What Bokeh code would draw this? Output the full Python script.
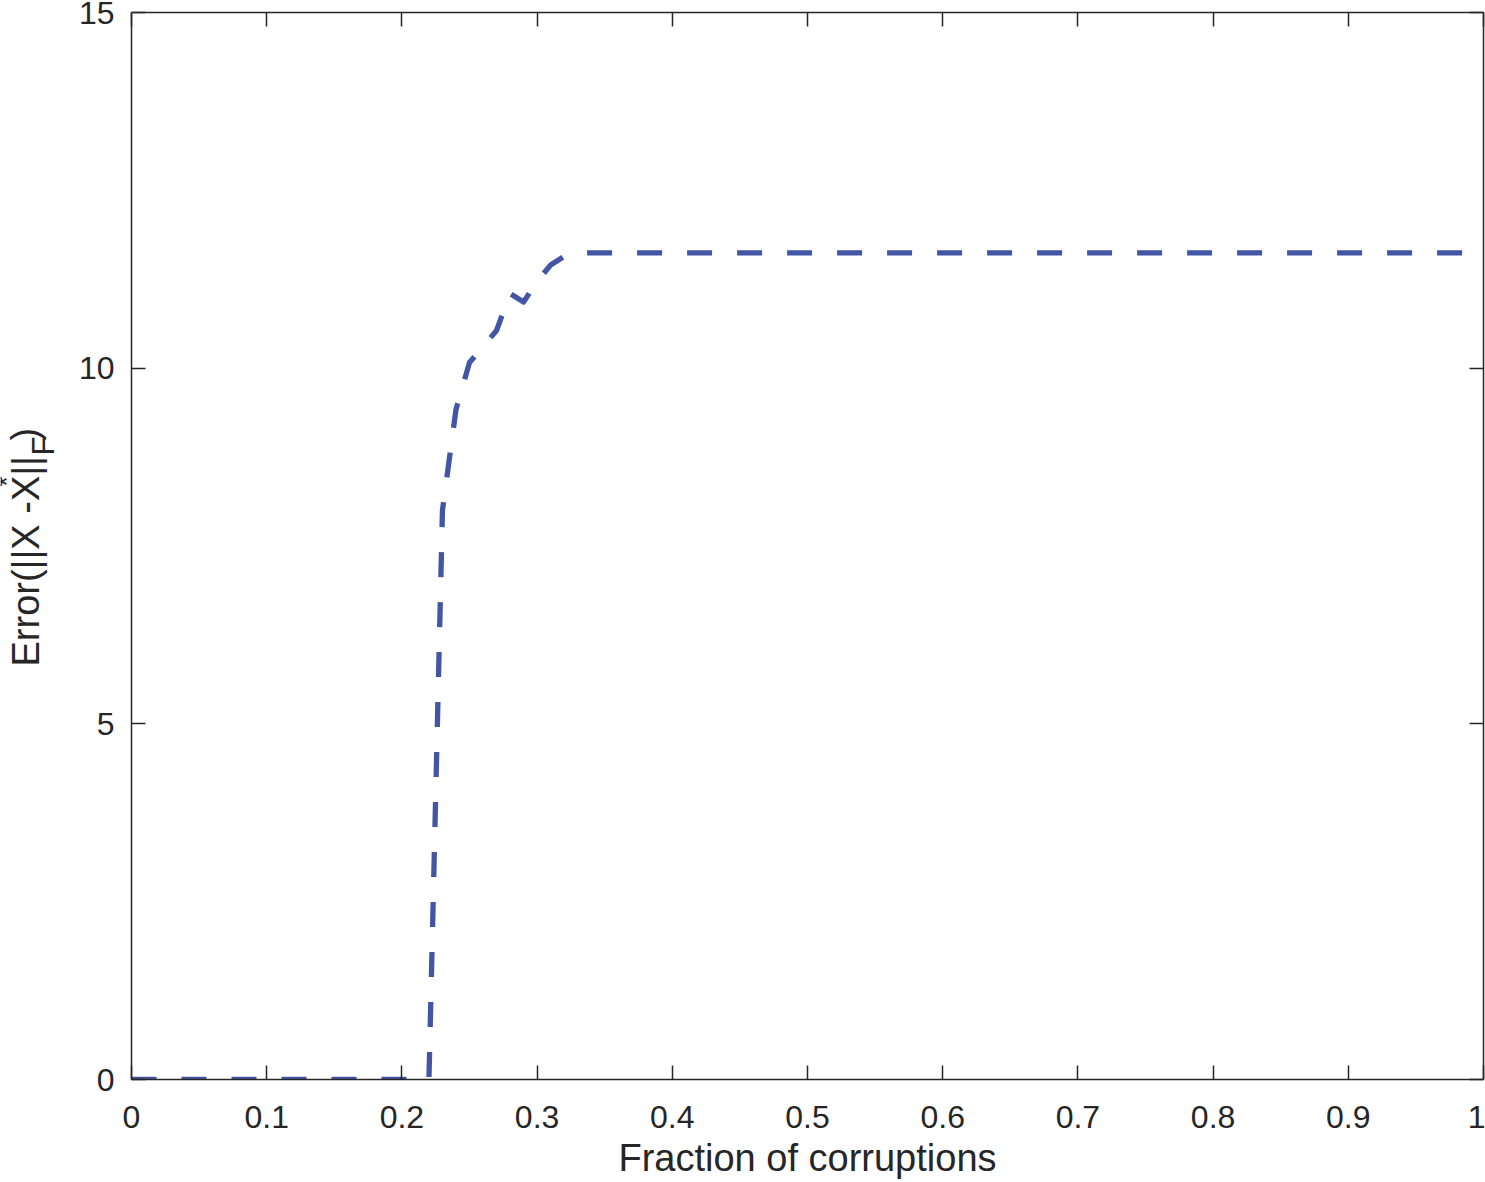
import numpy as np
from bokeh.plotting import figure
from bokeh.models import LinearAxis, FixedTicker, Label, Range1d
from bokeh.layouts import row
from bokeh.embed import file_html
from bokeh.resources import INLINE

# ---- data ----
frac = [0.0, 0.22, 0.23, 0.24, 0.25, 0.26, 0.27, 0.28, 0.29, 0.30, 0.31, 0.32, 0.33, 1.0]
err = [0.0, 0.0, 8.0, 9.42, 10.08, 10.3, 10.53, 11.05, 10.93, 11.22, 11.45, 11.57, 11.62, 11.62]

x_ticks = [0, 0.1, 0.2, 0.3, 0.4, 0.5, 0.6, 0.7, 0.8, 0.9, 1]
x_tick_labels = ["0", "0.1", "0.2", "0.3", "0.4", "0.5", "0.6", "0.7", "0.8", "0.9", "1"]
y_ticks = [0, 5, 10, 15]
y_tick_labels = ["0", "5", "10", "15"]

x_label = "Fraction of corruptions"
y_label_main = "Error(||X -X||"
y_label_sup = "*"
y_label_sub = "F"
y_label_close = ")"

FONT = "Liberation Sans"
AX = "#262626"
LINE = "#4355A5"

TOTAL_W, TOTAL_H = 1485, 1182
LAB_W = 75  # width of the strip that carries the rotated y-axis title
B_TOP, B_BOTTOM = 12, 103

# ---------------- main plot ----------------
p = figure(width=TOTAL_W - LAB_W, height=TOTAL_H, x_range=Range1d(0, 1), y_range=Range1d(0, 15),
           output_backend="svg", toolbar_location=None,
           min_border_left=130 - LAB_W, min_border_right=2,
           min_border_top=B_TOP, min_border_bottom=B_BOTTOM)
p.xgrid.visible = False
p.ygrid.visible = False
p.outline_line_color = None
p.background_fill_color = "white"
p.border_fill_color = "white"


def style(ax, ticks, labels, standoff, show):
    ax.ticker = FixedTicker(ticks=ticks)
    ax.axis_line_color = AX
    ax.axis_line_width = 1.5
    ax.major_tick_line_color = AX
    ax.major_tick_line_width = 1.5
    ax.major_tick_in = 14
    ax.major_tick_out = 0
    ax.minor_tick_line_color = None
    if show:
        ax.major_label_overrides = {t: l for t, l in zip(ticks, labels)}
        ax.major_label_text_font = FONT
        ax.major_label_text_font_size = "32px"
        ax.major_label_text_color = AX
        ax.major_label_standoff = standoff
    else:
        ax.major_label_text_font_size = "0px"
        ax.major_label_standoff = 0


style(p.xaxis[0], x_ticks, x_tick_labels, 26, True)
style(p.yaxis[0], y_ticks, y_tick_labels, 17, True)

p.xaxis[0].axis_label = x_label
p.xaxis[0].axis_label_text_font = FONT
p.xaxis[0].axis_label_text_font_size = "38px"
p.xaxis[0].axis_label_text_font_style = "normal"
p.xaxis[0].axis_label_text_color = AX
p.xaxis[0].axis_label_standoff = 6

top_ax = LinearAxis()
style(top_ax, x_ticks, x_tick_labels, 0, False)
p.add_layout(top_ax, "above")
right_ax = LinearAxis()
style(right_ax, y_ticks, y_tick_labels, 0, False)
p.add_layout(right_ax, "right")

p.line(frac, err, line_color=LINE, line_width=5.3, line_dash="25 25",
       line_cap="butt", line_join="round")

# ---------------- strip with the composite y-axis title ----------------
# its frame spans the same rows as the main frame; data units = page pixels
lab = figure(width=LAB_W, height=TOTAL_H,
             x_range=Range1d(0, LAB_W), y_range=Range1d(B_BOTTOM, TOTAL_H - B_TOP),
             output_backend="svg", toolbar_location=None,
             x_axis_location=None, y_axis_location=None,
             min_border_left=0, min_border_right=0,
             min_border_top=B_TOP, min_border_bottom=B_BOTTOM)
lab.grid.visible = False
lab.outline_line_color = None
lab.background_fill_color = "white"
lab.border_fill_color = "white"

DX = -17  # empirical correction of the rotated baseline position


def ylab(text, px, py, size, align="left"):
    # px, py: page position of the anchor (baseline), y measured from the top
    lab.add_layout(Label(x=px + DX, y=TOTAL_H - py, text=text, angle=np.pi / 2,
                         text_align=align, text_baseline="alphabetic",
                         text_font=FONT, text_font_size=size, text_color=AX))


ylab(y_label_main, 42, 666, "38px")
ylab(y_label_sup, 23, 481, "27px", "center")
ylab(y_label_sub, 60, 455, "31px")
ylab(y_label_close, 41, 440, "38px")

layout = row(lab, p)
open("out.html", "w").write(file_html(layout, INLINE))
